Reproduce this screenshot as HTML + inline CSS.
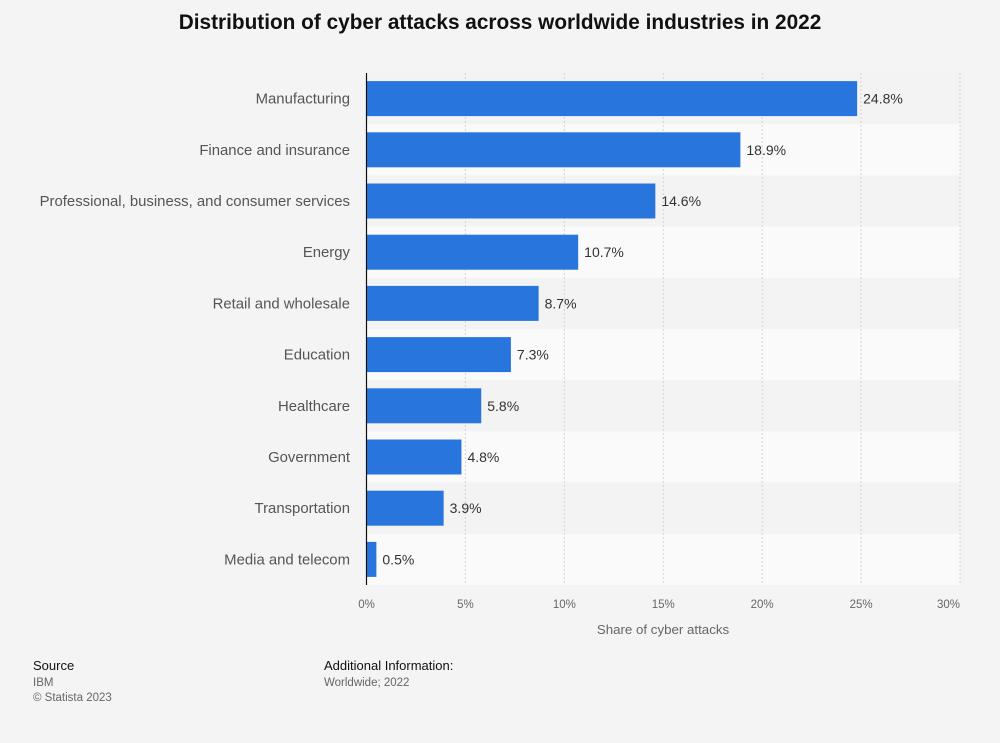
<!DOCTYPE html>
<html><head><meta charset="utf-8"><style>
body{margin:0;background:#f4f4f4;font-family:"Liberation Sans",sans-serif;}
#wrap{position:relative;width:1000px;height:743px;overflow:hidden;background:#f4f4f4}
svg text{font-family:"Liberation Sans",sans-serif}
</style></head><body>
<div id="wrap">
<svg id="chart" width="1000" height="743">
<text x="500" y="29" text-anchor="middle" font-size="20.8" font-weight="bold" fill="#111">Distribution of cyber attacks across worldwide industries in 2022</text>
<g id="bands"></g><g id="grid"></g><g id="bars"></g><g id="labels"></g>
<text x="663" y="634" text-anchor="middle" font-size="13.3" fill="#666">Share of cyber attacks</text>
<text x="33" y="670" font-size="13" fill="#111">Source</text>
<text x="33" y="686" font-size="11.5" fill="#666">IBM</text>
<text x="33" y="701" font-size="11.5" fill="#666">© Statista 2023</text>
<text x="324" y="670" font-size="13" fill="#111">Additional Information:</text>
<text x="324" y="686" font-size="11.5" fill="#666">Worldwide; 2022</text>
</svg></div>
<script>
const categories=["Manufacturing","Finance and insurance","Professional, business, and consumer services","Energy","Retail and wholesale","Education","Healthcare","Government","Transportation","Media and telecom"];
const values=[24.8,18.9,14.6,10.7,8.7,7.3,5.8,4.8,3.9,0.5];
const ticks=[0,5,10,15,20,25,30];
const NS="http://www.w3.org/2000/svg";
const X0=366.5,X1=960,XMAX=30,Y0=73,Y1=585;
const rowH=(Y1-Y0)/categories.length;
const x=v=>X0+(X1-X0)*v/XMAX;
const y=i=>Y0+i*rowH;
function mk(t,a,p){const e=document.createElementNS(NS,t);for(const k in a)e.setAttribute(k,a[k]);document.getElementById(p).appendChild(e);return e;}
categories.forEach((c,i)=>{
 const b=mk('rect',{x:X0,y:y(i),width:X1-X0,height:rowH,fill:i%2?'#fafafa':'#f3f3f3'},'bands');
 
 
});
ticks.forEach((t,k)=>{
 if(t>0){const l=mk('line',{x1:x(t),x2:x(t),y1:Y0,y2:Y1,stroke:'#d4d4d4','stroke-dasharray':'2,2'},'grid');
 
 }
 const last=k===ticks.length-1;
 const tx=mk('text',{x:last?x(t):x(t),y:608,'text-anchor':last?'end':'middle','font-size':11.5,fill:'#666'},'labels');
 tx.textContent=t+'%';
 
 
});
categories.forEach((c,i)=>{
 const cy=y(i)+rowH/2;
 const r=mk('rect',{x:X0,y:cy-17.5,width:x(values[i])-X0,height:35,fill:'#2876dd'},'bars');
 
 
 const l=mk('text',{x:350,y:cy+5,'text-anchor':'end','font-size':14.9,fill:'#555'},'labels');
 l.textContent=c;
 
 
 const v=mk('text',{x:x(values[i])+6,y:cy+5,'font-size':14,fill:'#333'},'labels');
 v.textContent=values[i].toFixed(1)+'%';
 
 
});
const ax=mk('line',{x1:X0,x2:X0,y1:Y0,y2:Y1,stroke:'#111','stroke-width':1.2},'labels');


</script>
</body></html>
